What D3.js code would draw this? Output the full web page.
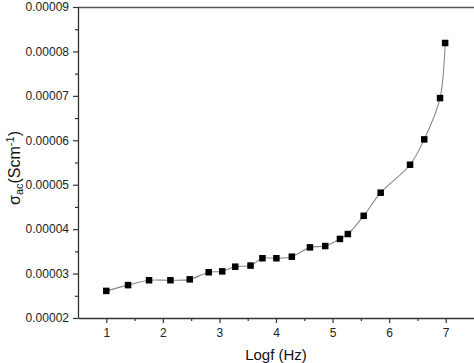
<!DOCTYPE html>
<html><head><meta charset="utf-8">
<script src="https://cdn.jsdelivr.net/npm/d3@7"></script>
<style>body{margin:0;background:#fff;} svg{display:block;}</style>
</head><body>
<script>
const logf = [1.0,1.385,1.756,2.134,2.475,2.81,3.05,3.28,3.55,3.76,4.007,4.28,4.60,4.87,5.13,5.27,5.55,5.85,6.37,6.62,6.90,6.99];
const sigma = [2.61e-5,2.74e-5,2.85e-5,2.85e-5,2.87e-5,3.03e-5,3.05e-5,3.155e-5,3.18e-5,3.345e-5,3.345e-5,3.38e-5,3.59e-5,3.62e-5,3.78e-5,3.89e-5,4.30e-5,4.82e-5,5.45e-5,6.02e-5,6.95e-5,8.19e-5];
const xTicks = [1,2,3,4,5,6,7];
const xMinor = [1.5,2.5,3.5,4.5,5.5,6.5];
const yTicks = [0.00002,0.00003,0.00004,0.00005,0.00006,0.00007,0.00008,0.00009];
const yMinor = [0.000025,0.000035,0.000045,0.000055,0.000065,0.000075,0.000085];

const W=474,H=363;
const L=78,T=7,R=474,B=318;
const svg=d3.select("body").append("svg").attr("width",W).attr("height",H);
const x=d3.scaleLinear().domain([0.5,7.5]).range([L,R]);
const y=d3.scaleLinear().domain([0.00002,0.00009]).range([B,T]);
const font="Arial, 'Liberation Sans', sans-serif";
const axc="#333";

// top frame
svg.append("line").attr("x1",L).attr("x2",R).attr("y1",T+0.5).attr("y2",T+0.5).attr("stroke","#555").attr("stroke-width",1.5);

const gx=svg.append("g").attr("transform",`translate(0,${B})`)
  .call(d3.axisBottom(x).tickValues(xTicks).tickFormat(d3.format("d")).tickSize(5).tickPadding(5).tickSizeOuter(0));
svg.append("g").attr("transform",`translate(0,${B})`)
  .call(d3.axisBottom(x).tickValues(xMinor).tickFormat("").tickSize(3).tickSizeOuter(0))
  .select(".domain").remove();
const gy=svg.append("g").attr("transform",`translate(${L},0)`)
  .call(d3.axisLeft(y).tickValues(yTicks).tickFormat(d3.format(".5f")).tickSize(5).tickPadding(4).tickSizeOuter(0));
svg.append("g").attr("transform",`translate(${L},0)`)
  .call(d3.axisLeft(y).tickValues(yMinor).tickFormat("").tickSize(3).tickSizeOuter(0))
  .select(".domain").remove();
svg.selectAll(".domain").attr("stroke",axc).attr("stroke-width",1.3);
svg.selectAll(".tick line").attr("stroke",axc).attr("stroke-width",1.2);
svg.selectAll(".tick text").attr("fill","#222").style("font-family",font).style("font-size","12px");

const pts=logf.map((d,i)=>[d,sigma[i]]);
svg.append("path").datum(pts)
  .attr("d",d3.line().x(d=>x(d[0])).y(d=>y(d[1])).curve(d3.curveCatmullRom.alpha(0.5)))
  .attr("fill","none").attr("stroke","#888").attr("stroke-width",1.1);
const s=6.5;
svg.append("g").selectAll("rect").data(pts).join("rect")
  .attr("x",d=>x(d[0])-s/2).attr("y",d=>y(d[1])-s/2).attr("width",s).attr("height",s).attr("fill","#000");

svg.append("text").attr("x",(x(1)+x(7))/2).attr("y",360).attr("text-anchor","middle")
  .style("font-family",font).style("font-size","15px").attr("fill","#111").text("Logf (Hz)");

const yl=svg.append("text").attr("transform",`translate(20,168) rotate(-90)`).attr("text-anchor","middle")
  .style("font-family",font).style("font-size","16px").attr("fill","#111");
yl.append("tspan").text("σ");
yl.append("tspan").attr("dy",3).style("font-size","11px").text("ac");
yl.append("tspan").attr("dy",-3).text("(Scm");
yl.append("tspan").attr("dy",-6).style("font-size","11px").text("-1");
yl.append("tspan").attr("dy",6).text(")");
</script>
</body></html>
